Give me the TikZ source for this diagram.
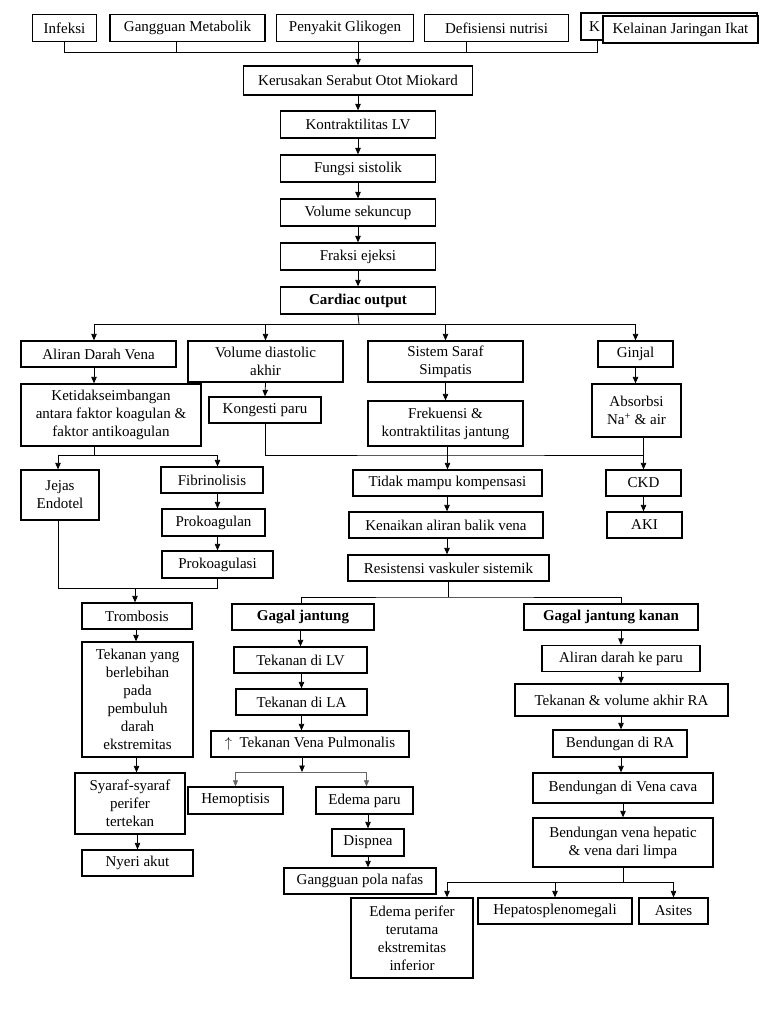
\documentclass[tikz,border=0pt]{standalone}
\usepackage{fontspec}
\setmainfont{Liberation Serif}
\usetikzlibrary{arrows.meta}
\begin{document}
\begin{tikzpicture}[x=1pt,y=-1pt,node distance=44pt,
    box/.style={draw=black,line width=1.3pt,inner sep=0pt,align=center,
        minimum height=26pt,fill=white,font=\fontsize{15}{18}\selectfont},
    boldbox/.style={box,font=\fontsize{15}{18}\selectfont\bfseries},
    wire/.style={line width=0.8pt},
    arr/.style={wire,-{Triangle[length=6.5pt,width=5.5pt]}},
    thinarr/.style={line width=0.6pt,draw=black!60,-{Triangle[length=6pt,width=5pt]}}]
\useasboundingbox (0,0) rectangle (768,1024);
\node (inf) [box,minimum width=64pt,minimum height=27pt] at (64.5,28) {Infeksi};
\node (gang) [box,minimum width=155pt,minimum height=27pt] at (187.5,28) {Gangguan Metabolik};
\node (peny) [box,minimum width=137pt,minimum height=27pt] at (345,28) {Penyakit Glikogen};
\node (defi) [box,minimum width=144pt,minimum height=27pt] at (496.5,28) {Defisiensi nutrisi};
\node (kback) [box,minimum width=176pt,minimum height=27pt,text width=160pt,align=left] at (669,26.5) {K};
\node (kelainan) [box,minimum width=155pt,minimum height=27pt] at (680.5,29.5) {Kelainan Jaringan Ikat};
\node (kerusakan) [box,minimum width=229pt,minimum height=29pt] at (358,80.5) {Kerusakan Serabut Otot Miokard};
\node (kontr) [box,minimum width=155pt,minimum height=27pt,below of=kerusakan] {Kontraktilitas LV};
\node (fungsi) [box,minimum width=155pt,minimum height=27pt,below of=kontr] {Fungsi sistolik};
\node (volsek) [box,minimum width=155pt,minimum height=27pt,below of=fungsi] {Volume sekuncup};
\node (fraksi) [box,minimum width=155pt,minimum height=27pt,below of=volsek] {Fraksi ejeksi};
\node (cardiac) [boldbox,minimum width=155pt,minimum height=27pt,below of=fraksi] {Cardiac output};
\node (aliran) [box,minimum width=155pt] at (98.5,354) {Aliran Darah Vena};
\node (voldia) [box,minimum width=155pt,minimum height=41pt] at (265.5,361.5) {Volume diastolic\\akhir};
\node (saraf) [box,minimum width=155pt,minimum height=41pt] at (445.5,361.5) {Sistem Saraf\\Simpatis};
\node (ginjal) [box,minimum width=75pt] at (635.5,354) {Ginjal};
\node (ketidak) [box,minimum width=180pt,minimum height=62pt] at (111,415) {Ketidakseimbangan\\antara faktor koagulan \&\\faktor antikoagulan};
\node (kongesti) [box,minimum width=112pt] at (265,410) {Kongesti paru};
\node (frek) [box,minimum width=155pt,minimum height=45pt] at (445.5,423.5) {Frekuensi \&\\kontraktilitas jantung};
\node (absorbsi) [box,minimum width=89pt,minimum height=53pt] at (636.5,410.5) {Absorbsi\\Na\textsuperscript{+} \& air};
\node (jejas) [box,minimum width=78pt,minimum height=50pt] at (60,495) {Jejas\\Endotel};
\node (fibrin) [box,minimum width=102pt] at (212,480) {Fibrinolisis};
\node (prokoagulan) [box,minimum width=103pt,minimum height=27pt] at (213.5,522.5) {Prokoagulan};
\node (prokoagulasi) [box,minimum width=111pt,minimum height=27pt] at (217.5,564.5) {Prokoagulasi};
\node (tidak) [box,minimum width=189pt] at (447.5,483) {Tidak mampu kompensasi};
\node (kenaikan) [box,minimum width=194pt] at (446,525) {Kenaikan aliran balik vena};
\node (resist) [box,minimum width=201pt] at (448.5,568) {Resistensi vaskuler sistemik};
\node (ckd) [box,minimum width=75pt] at (643.5,483) {CKD};
\node (aki) [box,minimum width=75pt] at (644.5,525) {AKI};
\node (trombosis) [box,minimum width=110pt] at (137,616) {Trombosis};
\node (tekanan) [box,minimum width=111pt,minimum height=115pt] at (137.5,699.5) {Tekanan yang\\berlebihan\\pada\\pembuluh\\darah\\ekstremitas};
\node (syaraf) [box,minimum width=110pt,minimum height=61pt] at (130,803.5) {Syaraf-syaraf\\perifer\\tertekan};
\node (nyeri) [box,minimum width=111pt] at (137.5,863) {Nyeri akut};
\node (gagal) [boldbox,minimum width=142pt] at (303,617) {Gagal jantung};
\node (gagalkanan) [boldbox,minimum width=174pt] at (611,617) {Gagal jantung kanan};
\node (lv) [box,minimum width=133pt] at (300.5,660) {Tekanan di LV};
\node (la) [box,minimum width=131pt] at (301.5,702) {Tekanan di LA};
\node (vena) [box,minimum width=198pt] at (310,744) {$\uparrow$\ \ Tekanan Vena Pulmonalis};
\node (hemo) [box,minimum width=95pt,minimum height=27pt] at (235.5,800.5) {Hemoptisis};
\node (edema) [box,minimum width=97pt,minimum height=27pt] at (364.5,800.5) {Edema paru};
\node (dispnea) [box,minimum width=72pt,minimum height=27pt] at (368,842.5) {Dispnea};
\node (pola) [box,minimum width=152pt] at (360,881) {Gangguan pola nafas};
\node (aliranparu) [box,minimum width=158pt] at (621,658.5) {Aliran darah ke paru};
\node (tekra) [box,minimum width=213pt,minimum height=32pt] at (621.5,700) {Tekanan \& volume akhir RA};
\node (bendra) [box,minimum width=134pt,minimum height=27pt] at (620,743.5) {Bendungan di RA};
\node (bendvc) [box,minimum width=180pt,minimum height=30pt] at (623,788) {Bendungan di Vena cava};
\node (bendhep) [box,minimum width=180pt,minimum height=49pt] at (623,842.5) {Bendungan vena hepatic\\\& vena dari limpa};
\node (edemaper) [box,minimum width=122pt,minimum height=80pt] at (412,938) {Edema perifer\\terutama\\ekstremitas\\inferior};
\node (hepato) [box,minimum width=154pt] at (555,911) {Hepatosplenomegali};
\node (asites) [box,minimum width=69pt] at (673.5,911) {Asites};
\coordinate (cosplit) at (359,324);
\coordinate (ksplit) at (94,455);
\coordinate (midline) at (447,455);
\coordinate (tsplit) at (135,588);
\coordinate (rsplit) at (448.5,597);
\coordinate (vsplit) at (302,772);
\coordinate (hsplit) at (623,882);
\draw[wire] (inf.south) -- ++(0,10) -| ([xshift=-72pt]kback.south);
\draw[wire] ([xshift=-11.5pt]gang.south) -- ++(0,10);
\draw[wire] ([xshift=-30.5pt]defi.south) -- ++(0,10);
\draw[arr] (peny.south -| kerusakan.north) -- (kerusakan.north);
\draw[arr] (kerusakan) -- (kontr);
\draw[arr] (kontr) -- (fungsi);
\draw[arr] (fungsi) -- (volsek);
\draw[arr] (volsek) -- (fraksi);
\draw[arr] (fraksi) -- (cardiac);
\draw[wire] (cardiac.south) -- (cosplit);
\draw[arr] (cosplit) -| ([xshift=-4.5pt]aliran.north);
\draw[arr] (cosplit) -| (ginjal.north);
\draw[arr] (voldia.north |- cosplit) -- (voldia.north);
\draw[arr] (saraf.north |- cosplit) -- (saraf.north);
\draw[arr] ([xshift=-4.5pt]aliran.south) -- ([xshift=-4.5pt]aliran.south |- ketidak.north);
\draw[arr] (voldia.south) -- (kongesti.north);
\draw[arr] (saraf.south) -- (frek.north);
\draw[arr] (ginjal.south) -- (ginjal.south |- absorbsi.north);
\draw[wire] (ketidak.south -| ksplit) -- (ksplit);
\draw[arr] (ksplit) -| ([xshift=-2pt]jejas.north);
\draw[arr] (ksplit) -| (prokoagulasi.north |- fibrin.north);
\draw[arr] (prokoagulasi.north |- fibrin.south) -- (prokoagulasi.north |- prokoagulan.north);
\draw[arr] (prokoagulasi.north |- prokoagulan.south) -- (prokoagulasi.north);
\draw[wire] ([xshift=-2pt]jejas.south) |- (prokoagulasi.south |- tsplit) -- (prokoagulasi.south);
\draw[arr] (tsplit) -- (tsplit |- trombosis.north);
\draw[wire] (kongesti.south) |- (midline) -- (midline -| ckd.north);
\draw[arr] (tidak.north |- frek.south) -- (tidak.north);
\draw[arr] (ckd.north |- absorbsi.south) -- (ckd.north);
\draw[arr] (tidak.south -| midline) -- (kenaikan.north -| midline);
\draw[arr] (kenaikan.south -| midline) -- (resist.north -| midline);
\draw[arr] (ckd.south) -- (ckd.south |- aki.north);
\draw[arr] ([xshift=-1pt]trombosis.south) -- ([xshift=-1pt]trombosis.south |- tekanan.north);
\draw[arr] ([xshift=-1pt]tekanan.south) -- ([xshift=-1pt]tekanan.south |- syaraf.north);
\draw[arr] (nyeri.north |- syaraf.south) -- (nyeri.north);
\draw[wire] (resist.south) -- (rsplit);
\draw[wire] ([xshift=-2pt]gagal.north) |- (rsplit) -| ([xshift=10pt]gagalkanan.north);
\draw[arr] (lv.north |- gagal.south) -- (lv.north);
\draw[arr] (la.north |- lv.south) -- (la.north);
\draw[arr] (la.south) -- (la.south |- vena.north);
\draw[arr] (vsplit |- vena.south) -- (vsplit);
\draw[thinarr] (vsplit) -| (hemo.north);
\draw[thinarr] (vsplit) -| ([xshift=2pt]edema.north);
\draw[arr] (dispnea.north |- edema.south) -- (dispnea.north);
\draw[arr] (dispnea.south) -- (dispnea.south |- pola.north);
\draw[arr] (aliranparu.north |- gagalkanan.south) -- (aliranparu.north);
\draw[arr] (aliranparu.south) -- (aliranparu.south |- tekra.north);
\draw[arr] (aliranparu.south |- tekra.south) -- (aliranparu.south |- bendra.north);
\draw[arr] (aliranparu.south |- bendra.south) -- (aliranparu.south |- bendvc.north);
\draw[arr] (bendvc.south) -- (bendhep.north);
\draw[wire] (bendhep.south) -- (hsplit);
\draw[arr] (hsplit) -| ([xshift=35pt]edemaper.north);
\draw[arr] (hsplit) -| (asites.north);
\draw[arr] (hepato.north |- hsplit) -- (hepato.north);
\end{tikzpicture}
\end{document}
